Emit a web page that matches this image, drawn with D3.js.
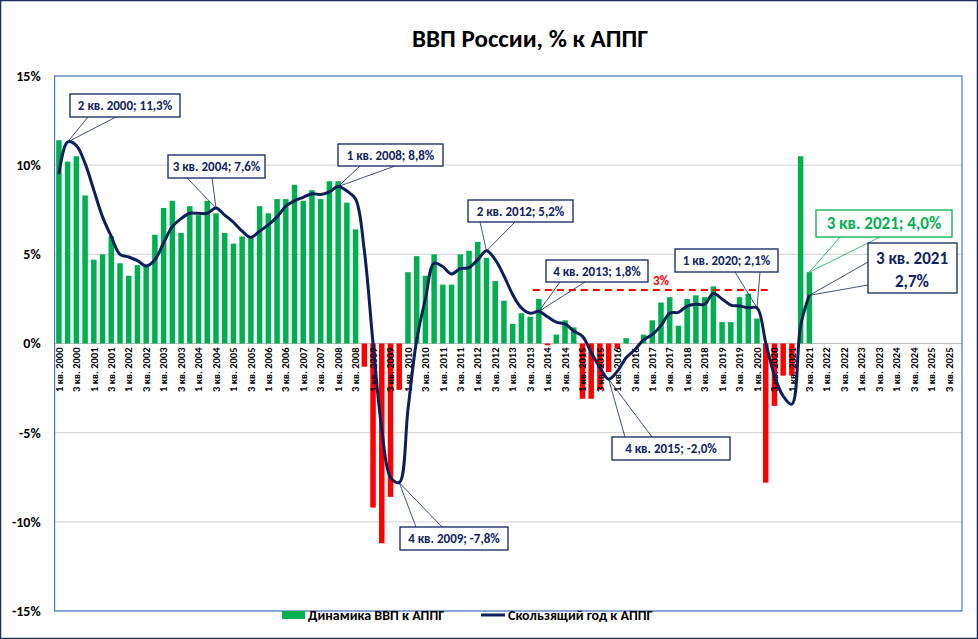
<!DOCTYPE html>
<html><head><meta charset="utf-8">
<script src="https://cdn.jsdelivr.net/npm/d3@7"></script>
<style>body{margin:0;background:#fff}svg{display:block;font-family:Calibri,Carlito,"Liberation Sans",Arial,sans-serif}</style>
</head><body><svg id="c" width="978" height="639"></svg>
<script>
const years = d3.range(2000, 2026);
const quarters = [];
years.forEach(y => [1,2,3,4].forEach(q => quarters.push({q, y})));
const barValues = [
 11.4,10.2,10.5,8.3, 4.7,5.0,6.0,4.5, 3.8,4.4,4.3,6.1, 7.6,8.0,6.2,7.7,
 7.2,8.0,7.3,6.2, 5.6,6.0,5.9,7.7, 7.3,8.1,8.1,8.9, 8.0,8.6,8.1,9.1,
 9.1,7.9,6.4,-1.3, -9.2,-11.2,-8.6,-2.6, 4.0,4.9,3.8,5.0, 3.3,3.3,5.0,5.2,
 5.7,4.8,3.5,2.4, 1.1,1.7,1.5,2.5, -0.1,0.5,1.3,0.9, -3.1,-3.1,-2.6,-1.6,
 -0.3,0.3,0.0,0.5, 1.3,2.3,2.6,1.0, 2.5,2.7,2.6,3.2, 1.2,1.2,2.6,2.8,
 1.4,-7.8,-3.5,-1.8, -1.8,10.5,4.0];
const movingYear = [
 9.5,11.3,11.1,10.1, 8.6,7.1,6.0,5.0, 4.85,4.65,4.35,4.7, 5.65,6.55,7.0,7.3,
 7.3,7.3,7.6,7.2, 6.8,6.3,5.95,6.3, 6.65,7.1,7.7,8.0, 8.2,8.4,8.35,8.5,
 8.8,8.55,8.1,5.2, 0.0,-4.8,-7.5,-7.8, -3.7,0.2,2.5,4.5, 4.3,3.9,4.2,4.25,
 4.7,5.2,4.7,3.8, 2.75,2.0,1.7,1.8, 1.5,1.2,1.1,0.7, 0.4,-0.5,-1.35,-2.0,
 -1.55,-0.8,-0.35,0.2, 0.5,1.0,1.7,1.75, 2.1,2.2,2.2,2.8, 2.5,2.15,2.1,2.0,
 2.0,0.05,-1.8,-2.95, -3.4,1.0,2.7];
const yTicks = [-15,-10,-5,0,5,10,15];
const target = 3;
const targetFrom = 55, targetTo = 81;
const callouts = [
 {i:1, text:"2 кв. 2000; 11,3%", bx:70, by:94, w:110, h:23, a:[88,116], v:movingYear[1]},
 {i:18, text:"3 кв. 2004; 7,6%", bx:168, by:155, w:97, h:23, a:[187,212], v:movingYear[18]},
 {i:32, text:"1 кв. 2008; 8,8%", bx:338, by:144, w:105, h:22, a:[360,395], v:movingYear[32]},
 {i:49, text:"2 кв. 2012; 5,2%", bx:468, by:200, w:105, h:22, a:[480,515], v:movingYear[49]},
 {i:55, text:"4 кв. 2013; 1,8%", bx:546, by:260, w:102, h:22, a:[560,585], v:movingYear[55]},
 {i:63, text:"4 кв. 2015; -2,0%", bx:612, by:437, w:118, h:23, a:[625,652], v:movingYear[63], top:true},
 {i:39, text:"4 кв. 2009; -7,8%", bx:400, by:527, w:108, h:23, a:[416,442], v:movingYear[39], top:true},
 {i:80, text:"1 кв. 2020; 2,1%", bx:675, by:249, w:103, h:23, a:[735,760], v:movingYear[80]}
];
const svg = d3.select("#c");
svg.append("rect").attr("x",0.5).attr("y",0.5).attr("width",977).attr("height",638).attr("fill","#fff").attr("stroke","#1F2D5A").attr("stroke-width",1.5);
const L=54.6, R=962, T=76, B=611;
const x = d3.scaleBand().domain(d3.range(quarters.length)).range([L,R]).paddingInner(0.37).paddingOuter(0.18);
const y = d3.scaleLinear().domain([-15,15]).range([B,T]);
svg.append("text").attr("x",530).attr("y",47).attr("text-anchor","middle").attr("font-size",25).attr("font-weight","bold").text("ВВП России, % к АППГ");
// grid
svg.append("g").selectAll("line").data(yTicks).join("line").attr("x1",L).attr("x2",R).attr("y1",d=>y(d)).attr("y2",d=>y(d)).attr("stroke",d=>d===0?"#BFBFBF":"#D9D9D9").attr("stroke-width",1.2);
const yAxis = d3.axisLeft(y).tickValues(yTicks).tickFormat(d=>d+"%").tickSize(0).tickPadding(14);
const ga = svg.append("g").attr("transform",`translate(${L},0)`).call(yAxis);
ga.select(".domain").remove();
ga.selectAll("text").attr("font-size",14).attr("font-weight","bold").attr("fill","#000").attr("font-family","Calibri,Carlito,'Liberation Sans',sans-serif");
// bars
svg.append("g").selectAll("rect").data(barValues).join("rect")
 .attr("x",(d,i)=>x(i)).attr("width",x.bandwidth())
 .attr("y",d=>y(Math.max(0,d))).attr("height",d=>Math.abs(y(d)-y(0)))
 .attr("fill",d=>d<0?"#FF0000":"#00B050");
// category labels
const xAxis = d3.axisBottom(x).tickValues(d3.range(0,quarters.length,2)).tickSize(0)
 .tickFormat(i=>`${quarters[i].q} кв. ${quarters[i].y}`);
const gx = svg.append("g").attr("transform",`translate(0,${y(0)})`).call(xAxis);
gx.select(".domain").remove();
gx.selectAll("text").attr("transform","rotate(-90)").attr("text-anchor","end").attr("dy","0.35em").attr("x",-4).attr("y",0)
 .attr("font-size",10.5).attr("font-weight","bold").attr("fill","#000").attr("font-family","Calibri,Carlito,'Liberation Sans',sans-serif");
// target line
const cx = i => x(i)+x.bandwidth()/2;
svg.append("line").attr("x1",cx(targetFrom)-6).attr("x2",cx(targetTo)+2).attr("y1",y(target)).attr("y2",y(target)).attr("stroke","#FF0000").attr("stroke-width",1.8).attr("stroke-dasharray","7,5");
svg.append("text").attr("x",cx(69)).attr("y",y(target)-5).attr("text-anchor","middle").attr("fill","#FF0000").attr("font-size",13).attr("font-weight","bold").text("3%");
// moving year line
svg.append("path").datum(movingYear).attr("fill","none").attr("stroke","#0C1F5B").attr("stroke-width",3)
 .attr("d",d3.line().x((d,i)=>cx(i)).y(d=>y(d)).curve(d3.curveCatmullRom.alpha(0.5)));
// plot border
svg.append("rect").attr("x",L).attr("y",T).attr("width",R-L).attr("height",B-T).attr("fill","none").attr("stroke","#4A7CC4").attr("stroke-width",1.2);
// callouts
function callout(c, color, fs, lines){
 const px=cx(c.i), py=y(c.v);
 const ey = c.top? c.by : c.by+c.h;
 c.a.forEach(ax=>svg.append("line").attr("x1",ax).attr("y1",ey).attr("x2",px).attr("y2",py).attr("stroke",color).attr("stroke-width",0.8));
 svg.append("rect").attr("x",c.bx).attr("y",c.by).attr("width",c.w).attr("height",c.h).attr("fill","#fff").attr("stroke",color).attr("stroke-width",1.3);
 const t = svg.append("text").attr("text-anchor","middle").attr("font-size",fs).attr("font-weight","bold").attr("fill",color);
 lines.forEach((s,k)=>t.append("tspan").attr("x",c.bx+c.w/2).attr("y",c.by+(k+1)*c.h/lines.length - (c.h/lines.length - fs*0.7)/2).text(s));
}
callouts.forEach(c=>callout(c,"#12235F",13,[c.text]));
callout({i:86,bx:816,by:210,w:136,h:27,a:[840,880],v:barValues[86]},"#00B050",17,["3 кв. 2021; 4,0%"]);
const lastC={i:86,bx:868,by:243,w:89,h:50,a:[868],v:movingYear[86]};
svg.append("line").attr("x1",868).attr("y1",262).attr("x2",cx(86)).attr("y2",y(movingYear[86])).attr("stroke","#12235F").attr("stroke-width",0.8);
svg.append("line").attr("x1",868).attr("y1",285).attr("x2",cx(86)).attr("y2",y(movingYear[86])).attr("stroke","#12235F").attr("stroke-width",0.8);
svg.append("rect").attr("x",868).attr("y",243).attr("width",89).attr("height",50).attr("fill","#fff").attr("stroke","#12235F").attr("stroke-width",1.3);
const t2=svg.append("text").attr("text-anchor","middle").attr("font-size",17).attr("font-weight","bold").attr("fill","#12235F");
t2.append("tspan").attr("x",912).attr("y",264).text("3 кв. 2021");
t2.append("tspan").attr("x",912).attr("y",287).text("2,7%");
// legend
svg.append("rect").attr("x",282).attr("y",611).attr("width",23).attr("height",8).attr("fill","#00B050");
svg.append("text").attr("x",308).attr("y",620).attr("font-size",14).attr("font-weight","bold").text("Динамика ВВП к АППГ");
svg.append("line").attr("x1",481).attr("x2",505).attr("y1",615).attr("y2",615).attr("stroke","#0C1F5B").attr("stroke-width",3);
svg.append("text").attr("x",508).attr("y",620).attr("font-size",14).attr("font-weight","bold").text("Скользящий год к АППГ");
</script></body></html>
